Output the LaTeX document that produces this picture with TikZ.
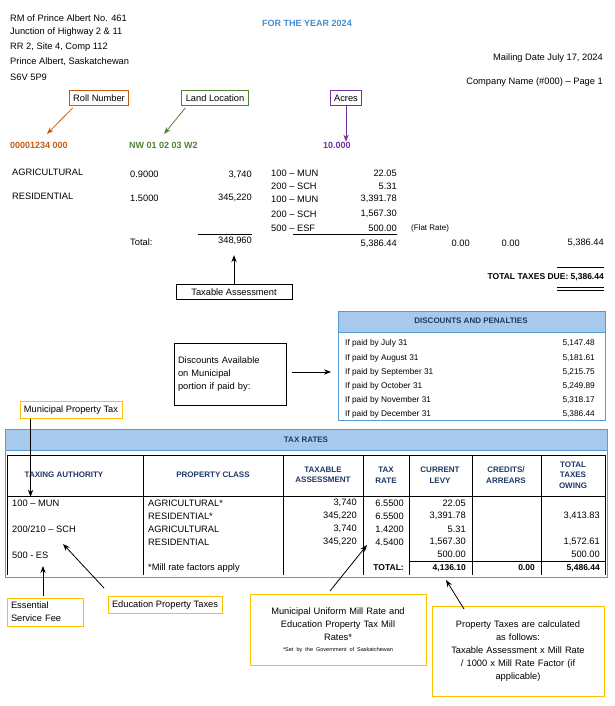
\documentclass[tikz,border=0pt]{standalone}
\usepackage{fontspec}
\setmainfont{Liberation Sans}
\usetikzlibrary{positioning,arrows.meta}
\definecolor{hdrblue}{RGB}{166,201,236}
\definecolor{boxblue}{RGB}{91,155,213}
\definecolor{navy}{RGB}{31,56,100}
\definecolor{rollor}{RGB}{197,90,17}
\definecolor{landgr}{RGB}{84,130,53}
\definecolor{acrepu}{RGB}{112,48,160}
\definecolor{yearbl}{RGB}{68,140,210}
\definecolor{callyel}{RGB}{255,192,0}
\tikzset{
  txt/.style={inner sep=0pt,font=\fontsize{9.3}{10}\selectfont},
  lt/.style={txt,anchor=west},
  rt/.style={txt,anchor=east},
  hd/.style={txt,font=\fontsize{8}{10.5}\selectfont\bfseries,text=navy,align=center},
  callout/.style={draw,thick,inner sep=4pt,font=\fontsize{9.3}{13}\selectfont,align=center},
  pt/.style={-{Stealth[length=7pt]},thick}
}
\begin{document}
\begin{tikzpicture}[x=1pt,y=-1pt]
\useasboundingbox (0,0) rectangle (614,706);

% header
\foreach \y/\t in {18/RM of Prince Albert No. 461, 32/Junction of Highway 2 \& 11, 47/{RR 2, Site 4, Comp 112}, 62/{Prince Albert, Saskatchewan}, 77/S6V 5P9}
  \node[lt] at (10,\y) {\t};
\node[txt,font=\fontsize{9}{9}\selectfont\bfseries,text=yearbl] (year) at (307,23) {FOR THE YEAR 2024};
\node[rt] (mail) at (603,58) {Mailing Date July 17, 2024};
\node[rt] (comp) at (603,82) {Company Name (\#000) – Page 1};

% callouts top
\node[callout,draw=rollor] (roll) at (99,98) {Roll Number};
\node[callout,draw=landgr] (land) at (215,98) {Land Location};
\node[callout,draw=acrepu] (acre) at (346,98) {Acres};
\node[lt,font=\fontsize{9}{9}\selectfont\bfseries,text=rollor] (rollno) at (10,145) {00001234 000};
\node[lt,font=\fontsize{9}{9}\selectfont\bfseries,text=landgr] (landno) at (129,145) {NW 01 02 03 W2};
\node[lt,font=\fontsize{9}{9}\selectfont\bfseries,text=acrepu] (acreno) at (323,145) {10.000};
\coordinate (rollend) at (47,134);
\coordinate (landend) at (164,134);
\draw[pt,rollor] (roll.south west)++(4,2) -- (rollend);
\draw[pt,landgr] (land.south west)++(4,2) -- (landend);
\draw[pt,acrepu] (acre.south) -- (acreno.north-|acre.south);

% assessment lines
\node[lt] (agr) at (12,172) {AGRICULTURAL};
\node[lt] (res) at (12,196) {RESIDENTIAL};
\node[lt] at (130,174) {0.9000};
\node[lt] at (130,198) {1.5000};
\node[rt] at (252,175) {3,740};
\node[rt] at (252,198) {345,220};
\foreach \y/\a/\v in {173/100 – MUN/22.05, 186/200 – SCH/5.31, 199/100 – MUN/{3,391.78}, 214/200 – SCH/{1,567.30}, 228/500 – ESF/500.00}{
  \node[lt] at (271,\y) {\a};
  \node[rt] at (397,\y) {\v};
}
\node[lt,font=\fontsize{8}{9}\selectfont] at (411,228) {(Flat Rate)};
\draw (198,234) -- (252,234);
\draw (293,234) -- (397,234);
\node[lt] at (130,242) {Total:};
\node[rt] (tot) at (252,241) {348,960};
\node[rt] at (397,244) {5,386.44};
\node[rt] at (470,243) {0.00};
\node[rt] at (520,243) {0.00};
\node[rt] at (604,243) {5,386.44};
\draw (557,267) -- (604,267);
\node[rt,font=\fontsize{8.5}{9}\selectfont\bfseries] at (604,277) {TOTAL TAXES DUE: 5,386.44};
\draw (557,287) -- (604,287) (557,290) -- (604,290);
\node[callout,minimum width=116pt] (taxass) at (234,292) {Taxable Assessment};
\draw[pt] (taxass.north) -- ++(0,-29);

% discounts
\draw[boxblue,fill=hdrblue] (338,311) rectangle (605,332);
\draw[boxblue] (338,332) rectangle (605,420);
\node[hd] at (471,321) {DISCOUNTS AND PENALTIES};
\foreach \y/\m/\v in {343/July 31/{5,147.48}, 358/August 31/{5,181.61}, 372/September 31/{5,215.75}, 386/October 31/{5,249.89}, 400/November 31/{5,318.17}, 414/December 31/{5,386.44}}{
  \node[lt,font=\fontsize{8.3}{9}\selectfont] at (345,\y) {If paid by \m};
  \node[rt,font=\fontsize{8.3}{9}\selectfont] at (595,\y) {\v};
}
\node[callout,align=left,text width=104pt,minimum height=62pt] (disc) at (230,374) {Discounts Available\\on Municipal\\portion if paid by:};
\coordinate (discend) at (331,372);
\draw[pt] (disc.east|-discend) ++(6,0) -- (discend);

% tax rates table
\node[callout,draw=callyel,align=left] (munprop) at (71,410) {Municipal Property Tax};
\draw[boxblue,fill=hdrblue] (5,429) rectangle (607,450);
\draw[boxblue] (5,450) rectangle (607,577);
\node[hd] at (306,440) {TAX RATES};
\draw (7,455) -- (605,455) (7,496) -- (605,496);
\foreach \x in {7,143,283,363,409,472,541,605}
  \draw (\x,455) -- (\x,575);
\draw (409,561) -- (605,561);
\node[hd] at (64,475) {TAXING AUTHORITY};
\node[hd] at (213,475) {PROPERTY CLASS};
\node[hd] at (323,475) {TAXABLE\\ASSESSMENT};
\node[hd] at (386,475) {TAX\\RATE};
\node[hd] at (440,475) {CURRENT\\LEVY};
\node[hd] at (506,475) {CREDITS/\\ARREARS};
\node[hd] at (573,475) {TOTAL\\TAXES\\OWING};
\node[lt] (mun) at (12,503) {100 – MUN};
\node[lt] (sch) at (12,529) {200/210 – SCH};
\node[lt] (es) at (12,555) {500 - ES};
\foreach \y/\c/\a/\r/\l in {503/AGRICULTURAL*/{3,740}/6.5500/22.05, 516/RESIDENTIAL*/{345,220}/6.5500/{3,391.78}, 529/AGRICULTURAL/{3,740}/1.4200/5.31, 542/RESIDENTIAL/{345,220}/4.5400/{1,567.30}}{
  \node[lt] at (148,\y) {\c};
  \node[rt] at (357,\y) {\a};
  \node[rt] at (404,\y) {\r};
  \node[rt] at (466,\y) {\l};
}
\node[rt] at (466,554) {500.00};
\node[rt] at (600,516) {3,413.83};
\node[rt] at (600,542) {1,572.61};
\node[rt] at (600,554) {500.00};
\node[lt] at (148,568) {*Mill rate factors apply};
\foreach \x/\t in {404/TOTAL:, 466/{4,136.10}, 535/0.00, 600/{5,486.44}}
  \node[rt,font=\fontsize{8.5}{9}\selectfont\bfseries] at (\x,568) {\t};
\draw[pt] (munprop.south west) ++(11,0) -- ++(0,78);

% bottom callouts
\node[callout,draw=callyel,align=left,text width=68pt] (esf) at (45,612) {Essential\\Service Fee};
\node[callout,draw=callyel] (edu) at (165,605) {Education Property Taxes};
\node[callout,draw=callyel,text width=168pt,minimum height=71pt] (mill) at (338,630) {Municipal Uniform Mill Rate and\\Education Property Tax Mill\\Rates*\\[-2pt]{\fontsize{5.5}{7}\selectfont *Set by the Government of Saskatchewan}};
\node[callout,draw=callyel,text width=164pt,minimum height=90pt] (calc) at (518,651) {Property Taxes are calculated\\as follows:\\Taxable Assessment x Mill Rate\\/ 1000 x Mill Rate Factor (if\\applicable)};
\coordinate (esend) at (43,566);
\coordinate (eduend) at (63,544);
\coordinate (millend) at (367,545);
\coordinate (calcend) at (446,580);
\draw[pt] (esf.north-|esend) ++(0,-2) -- (esend);
\draw[pt] (104,588) -- (eduend);
\draw[pt] (330,591) -- (millend);
\draw[pt] (464,609) -- (calcend);
\end{tikzpicture}
\end{document}
